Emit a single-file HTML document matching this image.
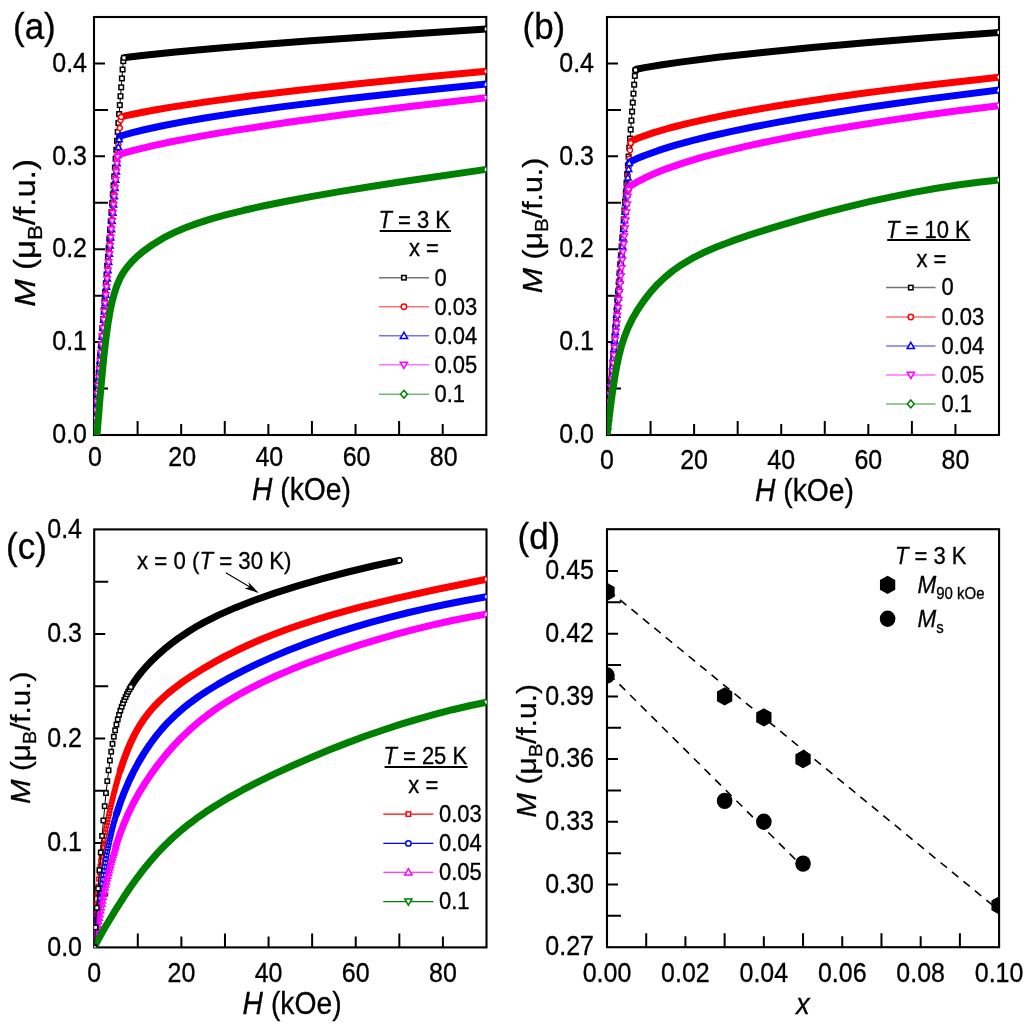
<!DOCTYPE html><html><head><meta charset="utf-8"><style>html,body{margin:0;padding:0;background:#fff;overflow:hidden}svg{display:block;will-change:transform}text{font-family:"Liberation Sans", sans-serif;fill:#000;stroke:#000;stroke-width:0.3px}</style></head><body>
<svg width="1025" height="1025" viewBox="0 0 1025 1025"><rect width="1025" height="1025" fill="#fff"/>
<clipPath id="ca"><rect x="94" y="17" width="392.3" height="418"/></clipPath>
<rect x="94" y="17" width="392.3" height="418" fill="none" stroke="#000" stroke-width="2.1"/>
<path d="M137.59 435V421 M181.18 435V424 M224.77 435V421 M268.36 435V424 M311.94 435V421 M355.53 435V424 M399.12 435V421 M442.71 435V424 M94 388.56H108 M94 342.11H105 M94 295.67H108 M94 249.22H105 M94 202.78H108 M94 156.33H105 M94 109.89H108 M94 63.44H105" stroke="#000" stroke-width="2" fill="none"/>
<text transform="translate(87 443.2) scale(1 1.085)" font-size="25" text-anchor="end">0.0</text>
<text transform="translate(87 350.31) scale(1 1.085)" font-size="25" text-anchor="end">0.1</text>
<text transform="translate(87 257.42) scale(1 1.085)" font-size="25" text-anchor="end">0.2</text>
<text transform="translate(87 164.53) scale(1 1.085)" font-size="25" text-anchor="end">0.3</text>
<text transform="translate(87 71.64) scale(1 1.085)" font-size="25" text-anchor="end">0.4</text>
<text transform="translate(95 466.4) scale(1 1.085)" font-size="25" text-anchor="middle">0</text>
<text transform="translate(182.18 466.4) scale(1 1.085)" font-size="25" text-anchor="middle">20</text>
<text transform="translate(269.36 466.4) scale(1 1.085)" font-size="25" text-anchor="middle">40</text>
<text transform="translate(356.53 466.4) scale(1 1.085)" font-size="25" text-anchor="middle">60</text>
<text transform="translate(443.71 466.4) scale(1 1.085)" font-size="25" text-anchor="middle">80</text>
<clipPath id="cb"><rect x="607" y="17" width="392" height="418"/></clipPath>
<rect x="607" y="17" width="392" height="418" fill="none" stroke="#000" stroke-width="2.1"/>
<path d="M650.56 435V421 M694.11 435V424 M737.67 435V421 M781.22 435V424 M824.78 435V421 M868.33 435V424 M911.89 435V421 M955.44 435V424 M607 388.56H621 M607 342.11H618 M607 295.67H621 M607 249.22H618 M607 202.78H621 M607 156.33H618 M607 109.89H621 M607 63.44H618" stroke="#000" stroke-width="2" fill="none"/>
<text transform="translate(594 443.2) scale(1 1.085)" font-size="25" text-anchor="end">0.0</text>
<text transform="translate(594 350.31) scale(1 1.085)" font-size="25" text-anchor="end">0.1</text>
<text transform="translate(594 257.42) scale(1 1.085)" font-size="25" text-anchor="end">0.2</text>
<text transform="translate(594 164.53) scale(1 1.085)" font-size="25" text-anchor="end">0.3</text>
<text transform="translate(594 71.64) scale(1 1.085)" font-size="25" text-anchor="end">0.4</text>
<text transform="translate(607 469) scale(1 1.085)" font-size="25" text-anchor="middle">0</text>
<text transform="translate(694.11 469) scale(1 1.085)" font-size="25" text-anchor="middle">20</text>
<text transform="translate(781.22 469) scale(1 1.085)" font-size="25" text-anchor="middle">40</text>
<text transform="translate(868.33 469) scale(1 1.085)" font-size="25" text-anchor="middle">60</text>
<text transform="translate(955.44 469) scale(1 1.085)" font-size="25" text-anchor="middle">80</text>
<clipPath id="cc"><rect x="94.2" y="529.4" width="392.3" height="418"/></clipPath>
<rect x="94.2" y="529.4" width="392.3" height="418" fill="none" stroke="#000" stroke-width="2.1"/>
<path d="M137.79 947.4V933.4 M181.38 947.4V936.4 M224.97 947.4V933.4 M268.56 947.4V936.4 M312.14 947.4V933.4 M355.73 947.4V936.4 M399.32 947.4V933.4 M442.91 947.4V936.4 M94.2 895.15H108.2 M94.2 842.9H105.2 M94.2 790.65H108.2 M94.2 738.4H105.2 M94.2 686.15H108.2 M94.2 633.9H105.2 M94.2 581.65H108.2" stroke="#000" stroke-width="2" fill="none"/>
<text transform="translate(82 955.6) scale(1 1.085)" font-size="25" text-anchor="end">0.0</text>
<text transform="translate(82 851.1) scale(1 1.085)" font-size="25" text-anchor="end">0.1</text>
<text transform="translate(82 746.6) scale(1 1.085)" font-size="25" text-anchor="end">0.2</text>
<text transform="translate(82 642.1) scale(1 1.085)" font-size="25" text-anchor="end">0.3</text>
<text transform="translate(82 537.6) scale(1 1.085)" font-size="25" text-anchor="end">0.4</text>
<text transform="translate(94.2 981.5) scale(1 1.085)" font-size="25" text-anchor="middle">0</text>
<text transform="translate(181.38 981.5) scale(1 1.085)" font-size="25" text-anchor="middle">20</text>
<text transform="translate(268.56 981.5) scale(1 1.085)" font-size="25" text-anchor="middle">40</text>
<text transform="translate(355.73 981.5) scale(1 1.085)" font-size="25" text-anchor="middle">60</text>
<text transform="translate(442.91 981.5) scale(1 1.085)" font-size="25" text-anchor="middle">80</text>
<clipPath id="cd"><rect x="607" y="529.2" width="392.1" height="418"/></clipPath>
<rect x="607" y="529.2" width="392.1" height="418" fill="none" stroke="#000" stroke-width="2.1"/>
<path d="M646.21 947.2V933.2 M685.42 947.2V936.2 M724.63 947.2V933.2 M763.84 947.2V936.2 M803.05 947.2V933.2 M842.26 947.2V936.2 M881.47 947.2V933.2 M920.68 947.2V936.2 M959.89 947.2V933.2 M607 915.85H621 M607 884.5H618 M607 853.15H621 M607 821.8H618 M607 790.45H621 M607 759.1H618 M607 727.75H621 M607 696.4H618 M607 665.05H621 M607 633.7H618 M607 602.35H621 M607 571H618" stroke="#000" stroke-width="2" fill="none"/>
<text transform="translate(594 955.4) scale(1 1.085)" font-size="25" text-anchor="end">0.27</text>
<text transform="translate(594 892.7) scale(1 1.085)" font-size="25" text-anchor="end">0.30</text>
<text transform="translate(594 830) scale(1 1.085)" font-size="25" text-anchor="end">0.33</text>
<text transform="translate(594 767.3) scale(1 1.085)" font-size="25" text-anchor="end">0.36</text>
<text transform="translate(594 704.6) scale(1 1.085)" font-size="25" text-anchor="end">0.39</text>
<text transform="translate(594 641.9) scale(1 1.085)" font-size="25" text-anchor="end">0.42</text>
<text transform="translate(594 579.2) scale(1 1.085)" font-size="25" text-anchor="end">0.45</text>
<text transform="translate(607 981.5) scale(1 1.085)" font-size="25" text-anchor="middle">0.00</text>
<text transform="translate(685.42 981.5) scale(1 1.085)" font-size="25" text-anchor="middle">0.02</text>
<text transform="translate(763.84 981.5) scale(1 1.085)" font-size="25" text-anchor="middle">0.04</text>
<text transform="translate(842.26 981.5) scale(1 1.085)" font-size="25" text-anchor="middle">0.06</text>
<text transform="translate(920.68 981.5) scale(1 1.085)" font-size="25" text-anchor="middle">0.08</text>
<text transform="translate(999.1 981.5) scale(1 1.085)" font-size="25" text-anchor="middle">0.10</text>
<text transform="translate(13 38.8) scale(1 1.04)" font-size="35" text-anchor="start">(a)</text>
<text transform="translate(522.5 39.2) scale(1 1.04)" font-size="35" text-anchor="start">(b)</text>
<text transform="translate(6 558.5) scale(1 1.04)" font-size="35" text-anchor="start">(c)</text>
<text transform="translate(517.5 548.5) scale(1 1.04)" font-size="35" text-anchor="start">(d)</text>
<text transform="translate(35.4 232.9) scale(1 1.09) rotate(-90)" font-size="30.3" text-anchor="middle"><tspan font-style="italic">M</tspan> (μ<tspan font-size="20.6" dy="6.67">B</tspan><tspan dy="-6.67">/f.u.)</tspan></text>
<text transform="translate(542.1 225.45) scale(1 1.09) rotate(-90)" font-size="27.8" text-anchor="middle"><tspan font-style="italic">M</tspan> (μ<tspan font-size="18.9" dy="6.12">B</tspan><tspan dy="-6.12">/f.u.)</tspan></text>
<text transform="translate(29.6 737.85) scale(1 1.09) rotate(-90)" font-size="27.1" text-anchor="middle"><tspan font-style="italic">M</tspan> (μ<tspan font-size="18.43" dy="5.96">B</tspan><tspan dy="-5.96">/f.u.)</tspan></text>
<text transform="translate(536.3 750.85) scale(1 1.09) rotate(-90)" font-size="27.4" text-anchor="middle"><tspan font-style="italic">M</tspan> (μ<tspan font-size="18.63" dy="6.03">B</tspan><tspan dy="-6.03">/f.u.)</tspan></text>
<text transform="translate(252 499.8) scale(1 1.085)" font-size="28.3" text-anchor="start"><tspan font-style="italic">H</tspan> (kOe)</text>
<text transform="translate(755 500.9) scale(1 1.085)" font-size="28.3" text-anchor="start"><tspan font-style="italic">H</tspan> (kOe)</text>
<text transform="translate(242.6 1013.7) scale(1 1.085)" font-size="28.3" text-anchor="start"><tspan font-style="italic">H</tspan> (kOe)</text>
<text transform="translate(796 1014) scale(1 1.085)" font-size="27.5" font-style="italic">x</text>
<g clip-path="url(#ca)">
<path d="M94 435 L123.29 61.18 L123.99 57.82 L124.69 57.57 L156.77 53.9" fill="none" stroke="#000000" stroke-width="1"/>
<path d="M123.99 57.82 L125.38 57.48 L142.12 55.48 L175.6 52 L213.96 48.49 L258.59 44.78 L307.41 41.04 L361.81 37.15 L486.3 29" fill="none" stroke="#000000" stroke-width="7" stroke-linecap="round" stroke-linejoin="round"/>
<use href="#sq000000120" x="94" y="435"/>
<use href="#sq000000120" x="94.7" y="426.09"/>
<use href="#sq000000120" x="95.39" y="417.17"/>
<use href="#sq000000120" x="96.09" y="408.26"/>
<use href="#sq000000120" x="96.79" y="399.34"/>
<use href="#sq000000120" x="97.49" y="390.43"/>
<use href="#sq000000120" x="98.18" y="381.51"/>
<use href="#sq000000120" x="98.88" y="372.6"/>
<use href="#sq000000120" x="99.58" y="363.68"/>
<use href="#sq000000120" x="100.28" y="354.77"/>
<use href="#sq000000120" x="100.97" y="345.85"/>
<use href="#sq000000120" x="101.67" y="336.94"/>
<use href="#sq000000120" x="102.37" y="328.02"/>
<use href="#sq000000120" x="103.07" y="319.11"/>
<use href="#sq000000120" x="103.76" y="310.19"/>
<use href="#sq000000120" x="104.46" y="301.28"/>
<use href="#sq000000120" x="105.16" y="292.36"/>
<use href="#sq000000120" x="105.86" y="283.45"/>
<use href="#sq000000120" x="106.55" y="274.53"/>
<use href="#sq000000120" x="107.25" y="265.62"/>
<use href="#sq000000120" x="107.95" y="256.7"/>
<use href="#sq000000120" x="108.65" y="247.79"/>
<use href="#sq000000120" x="109.34" y="238.88"/>
<use href="#sq000000120" x="110.04" y="229.96"/>
<use href="#sq000000120" x="110.74" y="221.05"/>
<use href="#sq000000120" x="111.44" y="212.13"/>
<use href="#sq000000120" x="112.13" y="203.22"/>
<use href="#sq000000120" x="112.83" y="194.3"/>
<use href="#sq000000120" x="113.53" y="185.39"/>
<use href="#sq000000120" x="114.23" y="176.47"/>
<use href="#sq000000120" x="114.92" y="167.56"/>
<use href="#sq000000120" x="115.62" y="158.64"/>
<use href="#sq000000120" x="116.32" y="149.73"/>
<use href="#sq000000120" x="117.01" y="140.81"/>
<use href="#sq000000120" x="117.71" y="131.9"/>
<use href="#sq000000120" x="118.41" y="122.98"/>
<use href="#sq000000120" x="119.11" y="114.07"/>
<use href="#sq000000120" x="119.8" y="105.15"/>
<use href="#sq000000120" x="120.5" y="96.24"/>
<use href="#sq000000120" x="121.2" y="87.32"/>
<use href="#sq000000120" x="121.9" y="78.41"/>
<use href="#sq000000120" x="122.59" y="69.51"/>
<use href="#sq000000120" x="123.29" y="61.18"/>
<use href="#sq000000120" x="123.99" y="57.82"/>
<rect x="485.25" y="27.95" width="2.09" height="2.09" fill="#fff" stroke="#ffffff" stroke-width="1.0"/>
</g>
<g clip-path="url(#ca)">
<path d="M94 435 L120.5 120.24 L121.2 117.01 L121.9 116.64 L138.64 113.02" fill="none" stroke="#ff0000" stroke-width="1"/>
<path d="M121.2 117.01 L121.9 116.64 L126.08 115.67 L141.42 112.47 L156.07 109.75 L172.81 106.92 L209.77 101.36 L253.71 95.54 L303.23 89.66 L358.32 83.68 L419.7 77.53 L486.3 71.33" fill="none" stroke="#ff0000" stroke-width="7" stroke-linecap="round" stroke-linejoin="round"/>
<use href="#ciff0000110" x="94" y="435"/>
<use href="#ciff0000110" x="94.7" y="426.7"/>
<use href="#ciff0000110" x="95.39" y="418.4"/>
<use href="#ciff0000110" x="96.09" y="410.1"/>
<use href="#ciff0000110" x="96.79" y="401.8"/>
<use href="#ciff0000110" x="97.49" y="393.5"/>
<use href="#ciff0000110" x="98.18" y="385.2"/>
<use href="#ciff0000110" x="98.88" y="376.9"/>
<use href="#ciff0000110" x="99.58" y="368.6"/>
<use href="#ciff0000110" x="100.28" y="360.3"/>
<use href="#ciff0000110" x="100.97" y="352"/>
<use href="#ciff0000110" x="101.67" y="343.7"/>
<use href="#ciff0000110" x="102.37" y="335.4"/>
<use href="#ciff0000110" x="103.07" y="327.1"/>
<use href="#ciff0000110" x="103.76" y="318.8"/>
<use href="#ciff0000110" x="104.46" y="310.5"/>
<use href="#ciff0000110" x="105.16" y="302.2"/>
<use href="#ciff0000110" x="105.86" y="293.9"/>
<use href="#ciff0000110" x="106.55" y="285.6"/>
<use href="#ciff0000110" x="107.25" y="277.3"/>
<use href="#ciff0000110" x="107.95" y="269"/>
<use href="#ciff0000110" x="108.65" y="260.7"/>
<use href="#ciff0000110" x="109.34" y="252.4"/>
<use href="#ciff0000110" x="110.04" y="244.1"/>
<use href="#ciff0000110" x="110.74" y="235.8"/>
<use href="#ciff0000110" x="111.44" y="227.5"/>
<use href="#ciff0000110" x="112.13" y="219.2"/>
<use href="#ciff0000110" x="112.83" y="210.9"/>
<use href="#ciff0000110" x="113.53" y="202.6"/>
<use href="#ciff0000110" x="114.23" y="194.3"/>
<use href="#ciff0000110" x="114.92" y="186"/>
<use href="#ciff0000110" x="115.62" y="177.7"/>
<use href="#ciff0000110" x="116.32" y="169.4"/>
<use href="#ciff0000110" x="117.01" y="161.1"/>
<use href="#ciff0000110" x="117.71" y="152.8"/>
<use href="#ciff0000110" x="118.41" y="144.5"/>
<use href="#ciff0000110" x="119.11" y="136.2"/>
<use href="#ciff0000110" x="119.8" y="127.92"/>
<use href="#ciff0000110" x="120.5" y="120.24"/>
<use href="#ciff0000110" x="121.2" y="117.01"/>
<circle cx="486.3" cy="71.33" r="1.26" fill="#fff" stroke="#ffffff" stroke-width="1.0"/>
</g>
<g clip-path="url(#ca)">
<path d="M94 435 L119.11 139.47 L119.8 136.4 L121.9 135.57" fill="none" stroke="#0000ff" stroke-width="1"/>
<path d="M119.11 139.47 L119.8 136.4 L120.5 136 L132.36 132.66 L146.31 129.26 L163.74 125.52 L183.97 121.66 L206.28 117.81 L231.39 113.86 L256.5 110.2 L283 106.6 L342.98 99.17 L410.63 91.66 L486.3 84.04" fill="none" stroke="#0000ff" stroke-width="7" stroke-linecap="round" stroke-linejoin="round"/>
<use href="#tu0000ff110" x="94" y="435"/>
<use href="#tu0000ff110" x="94.7" y="426.77"/>
<use href="#tu0000ff110" x="95.39" y="418.54"/>
<use href="#tu0000ff110" x="96.09" y="410.31"/>
<use href="#tu0000ff110" x="96.79" y="402.08"/>
<use href="#tu0000ff110" x="97.49" y="393.85"/>
<use href="#tu0000ff110" x="98.18" y="385.62"/>
<use href="#tu0000ff110" x="98.88" y="377.39"/>
<use href="#tu0000ff110" x="99.58" y="369.16"/>
<use href="#tu0000ff110" x="100.28" y="360.93"/>
<use href="#tu0000ff110" x="100.97" y="352.7"/>
<use href="#tu0000ff110" x="101.67" y="344.47"/>
<use href="#tu0000ff110" x="102.37" y="336.25"/>
<use href="#tu0000ff110" x="103.07" y="328.02"/>
<use href="#tu0000ff110" x="103.76" y="319.79"/>
<use href="#tu0000ff110" x="104.46" y="311.56"/>
<use href="#tu0000ff110" x="105.16" y="303.33"/>
<use href="#tu0000ff110" x="105.86" y="295.1"/>
<use href="#tu0000ff110" x="106.55" y="286.87"/>
<use href="#tu0000ff110" x="107.25" y="278.64"/>
<use href="#tu0000ff110" x="107.95" y="270.41"/>
<use href="#tu0000ff110" x="108.65" y="262.18"/>
<use href="#tu0000ff110" x="109.34" y="253.95"/>
<use href="#tu0000ff110" x="110.04" y="245.72"/>
<use href="#tu0000ff110" x="110.74" y="237.49"/>
<use href="#tu0000ff110" x="111.44" y="229.26"/>
<use href="#tu0000ff110" x="112.13" y="221.03"/>
<use href="#tu0000ff110" x="112.83" y="212.8"/>
<use href="#tu0000ff110" x="113.53" y="204.57"/>
<use href="#tu0000ff110" x="114.23" y="196.34"/>
<use href="#tu0000ff110" x="114.92" y="188.11"/>
<use href="#tu0000ff110" x="115.62" y="179.88"/>
<use href="#tu0000ff110" x="116.32" y="171.65"/>
<use href="#tu0000ff110" x="117.01" y="163.42"/>
<use href="#tu0000ff110" x="117.71" y="155.2"/>
<use href="#tu0000ff110" x="118.41" y="146.99"/>
<use href="#tu0000ff110" x="119.11" y="139.47"/>
<path d="M486.3 82.45L487.9 85.24L484.7 85.24Z" fill="#fff" stroke="#ffffff" stroke-width="1.0" stroke-linejoin="miter"/>
</g>
<g clip-path="url(#ca)">
<path d="M94 435 L117.71 156.81 L118.41 154.74 L123.99 152.98" fill="none" stroke="#ff00ff" stroke-width="1"/>
<path d="M117.71 156.81 L118.41 154.74 L119.11 154.44 L134.45 150.13 L153.28 145.63 L171.41 141.78 L191.64 137.87 L213.96 133.89 L238.37 129.84 L289.98 122.05 L348.56 114.09 L414.12 105.96 L486.3 97.7" fill="none" stroke="#ff00ff" stroke-width="7" stroke-linecap="round" stroke-linejoin="round"/>
<use href="#tdff00ff110" x="94" y="435"/>
<use href="#tdff00ff110" x="94.7" y="426.78"/>
<use href="#tdff00ff110" x="95.39" y="418.56"/>
<use href="#tdff00ff110" x="96.09" y="410.34"/>
<use href="#tdff00ff110" x="96.79" y="402.12"/>
<use href="#tdff00ff110" x="97.49" y="393.9"/>
<use href="#tdff00ff110" x="98.18" y="385.68"/>
<use href="#tdff00ff110" x="98.88" y="377.46"/>
<use href="#tdff00ff110" x="99.58" y="369.23"/>
<use href="#tdff00ff110" x="100.28" y="361.01"/>
<use href="#tdff00ff110" x="100.97" y="352.79"/>
<use href="#tdff00ff110" x="101.67" y="344.57"/>
<use href="#tdff00ff110" x="102.37" y="336.35"/>
<use href="#tdff00ff110" x="103.07" y="328.13"/>
<use href="#tdff00ff110" x="103.76" y="319.91"/>
<use href="#tdff00ff110" x="104.46" y="311.69"/>
<use href="#tdff00ff110" x="105.16" y="303.47"/>
<use href="#tdff00ff110" x="105.86" y="295.25"/>
<use href="#tdff00ff110" x="106.55" y="287.03"/>
<use href="#tdff00ff110" x="107.25" y="278.81"/>
<use href="#tdff00ff110" x="107.95" y="270.59"/>
<use href="#tdff00ff110" x="108.65" y="262.37"/>
<use href="#tdff00ff110" x="109.34" y="254.15"/>
<use href="#tdff00ff110" x="110.04" y="245.92"/>
<use href="#tdff00ff110" x="110.74" y="237.7"/>
<use href="#tdff00ff110" x="111.44" y="229.48"/>
<use href="#tdff00ff110" x="112.13" y="221.26"/>
<use href="#tdff00ff110" x="112.83" y="213.04"/>
<use href="#tdff00ff110" x="113.53" y="204.82"/>
<use href="#tdff00ff110" x="114.23" y="196.6"/>
<use href="#tdff00ff110" x="114.92" y="188.38"/>
<use href="#tdff00ff110" x="115.62" y="180.16"/>
<use href="#tdff00ff110" x="116.32" y="171.94"/>
<use href="#tdff00ff110" x="117.01" y="163.77"/>
<use href="#tdff00ff110" x="117.71" y="156.81"/>
<path d="M486.3 99.3L487.9 96.51L484.7 96.51Z" fill="#fff" stroke="#ffffff" stroke-width="1.0"/>
</g>
<g clip-path="url(#ca)">
<path d="M94 471.7 L100.28 394.8 L103.76 357.53 L105.86 339.15 L107.95 323.9 L110.04 311.51 L112.13 301.55 L114.23 293.56 L117.01 285.23 L119.8 278.81 L123.29 272.57 L127.48 266.69 L132.36 261.14 L137.94 255.8 L144.91 250.06 L153.28 244.13 L163.04 238.24 L173.51 232.89 L184.66 228.05 L197.22 223.39 L211.17 218.93 L226.51 214.63 L243.95 210.28 L264.17 205.75 L286.49 201.21 L310.9 196.63 L338.1 191.89 L368.09 186.98 L401.56 181.78 L486.3 169.4" fill="none" stroke="#008000" stroke-width="7" stroke-linecap="round" stroke-linejoin="round"/>
<path d="M486.3 167.64L487.84 169.4L486.3 171.16L484.76 169.4Z" fill="#fff" stroke="#ffffff" stroke-width="1.0"/>
</g>
<g clip-path="url(#cb)">
<path d="M607 435 L634.18 84.67 L635.57 70.02 L636.27 69.27 L636.97 69.11 L653.69 66.11" fill="none" stroke="#000000" stroke-width="1"/>
<path d="M635.57 70.02 L636.27 69.27 L646.03 67.42 L662.05 64.77 L680.17 62.12 L717.81 57.32 L762.41 52.41 L811.89 47.56 L868.33 42.56 L930.36 37.54 L999 32.4" fill="none" stroke="#000000" stroke-width="7" stroke-linecap="round" stroke-linejoin="round"/>
<use href="#sq000000120" x="607" y="435"/>
<use href="#sq000000120" x="607.7" y="426.02"/>
<use href="#sq000000120" x="608.39" y="417.03"/>
<use href="#sq000000120" x="609.09" y="408.05"/>
<use href="#sq000000120" x="609.79" y="399.07"/>
<use href="#sq000000120" x="610.48" y="390.09"/>
<use href="#sq000000120" x="611.18" y="381.1"/>
<use href="#sq000000120" x="611.88" y="372.12"/>
<use href="#sq000000120" x="612.58" y="363.14"/>
<use href="#sq000000120" x="613.27" y="354.15"/>
<use href="#sq000000120" x="613.97" y="345.17"/>
<use href="#sq000000120" x="614.67" y="336.19"/>
<use href="#sq000000120" x="615.36" y="327.2"/>
<use href="#sq000000120" x="616.06" y="318.22"/>
<use href="#sq000000120" x="616.76" y="309.24"/>
<use href="#sq000000120" x="617.45" y="300.26"/>
<use href="#sq000000120" x="618.15" y="291.27"/>
<use href="#sq000000120" x="618.85" y="282.29"/>
<use href="#sq000000120" x="619.54" y="273.31"/>
<use href="#sq000000120" x="620.24" y="264.32"/>
<use href="#sq000000120" x="620.94" y="255.34"/>
<use href="#sq000000120" x="621.63" y="246.36"/>
<use href="#sq000000120" x="622.33" y="237.37"/>
<use href="#sq000000120" x="623.03" y="228.39"/>
<use href="#sq000000120" x="623.73" y="219.41"/>
<use href="#sq000000120" x="624.42" y="210.43"/>
<use href="#sq000000120" x="625.12" y="201.44"/>
<use href="#sq000000120" x="625.82" y="192.46"/>
<use href="#sq000000120" x="626.51" y="183.48"/>
<use href="#sq000000120" x="627.21" y="174.49"/>
<use href="#sq000000120" x="627.91" y="165.51"/>
<use href="#sq000000120" x="628.6" y="156.53"/>
<use href="#sq000000120" x="629.3" y="147.55"/>
<use href="#sq000000120" x="630" y="138.56"/>
<use href="#sq000000120" x="630.69" y="129.58"/>
<use href="#sq000000120" x="631.39" y="120.6"/>
<use href="#sq000000120" x="632.09" y="111.61"/>
<use href="#sq000000120" x="632.78" y="102.63"/>
<use href="#sq000000120" x="633.48" y="93.65"/>
<use href="#sq000000120" x="634.18" y="84.67"/>
<use href="#sq000000120" x="634.88" y="75.84"/>
<use href="#sq000000120" x="635.57" y="70.02"/>
<rect x="997.96" y="31.35" width="2.09" height="2.09" fill="#fff" stroke="#ffffff" stroke-width="1.0"/>
</g>
<g clip-path="url(#cb)">
<path d="M607 435 L630.69 143.02 L631.39 141 L635.57 139.14" fill="none" stroke="#ff0000" stroke-width="1"/>
<path d="M630.69 143.02 L631.39 141 L639.06 137.76 L653.69 132.66 L670.42 127.75 L687.84 123.31 L706.66 119.04 L727.56 114.75 L750.56 110.45 L774.95 106.27 L800.74 102.17 L829.31 97.95 L859.27 93.8 L891.33 89.64 L925.48 85.47 L999 77.2" fill="none" stroke="#ff0000" stroke-width="7" stroke-linecap="round" stroke-linejoin="round"/>
<use href="#ciff0000110" x="607" y="435"/>
<use href="#ciff0000110" x="607.7" y="426.37"/>
<use href="#ciff0000110" x="608.39" y="417.74"/>
<use href="#ciff0000110" x="609.09" y="409.11"/>
<use href="#ciff0000110" x="609.79" y="400.48"/>
<use href="#ciff0000110" x="610.48" y="391.85"/>
<use href="#ciff0000110" x="611.18" y="383.22"/>
<use href="#ciff0000110" x="611.88" y="374.59"/>
<use href="#ciff0000110" x="612.58" y="365.96"/>
<use href="#ciff0000110" x="613.27" y="357.33"/>
<use href="#ciff0000110" x="613.97" y="348.7"/>
<use href="#ciff0000110" x="614.67" y="340.07"/>
<use href="#ciff0000110" x="615.36" y="331.44"/>
<use href="#ciff0000110" x="616.06" y="322.81"/>
<use href="#ciff0000110" x="616.76" y="314.18"/>
<use href="#ciff0000110" x="617.45" y="305.55"/>
<use href="#ciff0000110" x="618.15" y="296.92"/>
<use href="#ciff0000110" x="618.85" y="288.29"/>
<use href="#ciff0000110" x="619.54" y="279.66"/>
<use href="#ciff0000110" x="620.24" y="271.03"/>
<use href="#ciff0000110" x="620.94" y="262.4"/>
<use href="#ciff0000110" x="621.63" y="253.77"/>
<use href="#ciff0000110" x="622.33" y="245.14"/>
<use href="#ciff0000110" x="623.03" y="236.51"/>
<use href="#ciff0000110" x="623.73" y="227.88"/>
<use href="#ciff0000110" x="624.42" y="219.25"/>
<use href="#ciff0000110" x="625.12" y="210.62"/>
<use href="#ciff0000110" x="625.82" y="201.99"/>
<use href="#ciff0000110" x="626.51" y="193.36"/>
<use href="#ciff0000110" x="627.21" y="184.73"/>
<use href="#ciff0000110" x="627.91" y="176.1"/>
<use href="#ciff0000110" x="628.6" y="167.47"/>
<use href="#ciff0000110" x="629.3" y="158.84"/>
<use href="#ciff0000110" x="630" y="150.26"/>
<use href="#ciff0000110" x="630.69" y="143.02"/>
<circle cx="999" cy="77.2" r="1.26" fill="#fff" stroke="#ffffff" stroke-width="1.0"/>
</g>
<g clip-path="url(#cb)">
<path d="M607 435 L628.6 169.07 L629.3 163.07 L630 161.89 L635.57 159.23" fill="none" stroke="#0000ff" stroke-width="1"/>
<path d="M629.3 163.07 L630 161.89 L630.69 161.52 L636.97 158.61 L644.63 155.45 L658.57 150.43 L674.6 145.44 L692.02 140.65 L710.84 136.01 L731.74 131.31 L754.04 126.73 L778.43 122.09 L804.22 117.53 L832.1 112.93 L862.06 108.29 L893.42 103.72 L926.87 99.12 L999 89.94" fill="none" stroke="#0000ff" stroke-width="7" stroke-linecap="round" stroke-linejoin="round"/>
<use href="#tu0000ff110" x="607" y="435"/>
<use href="#tu0000ff110" x="607.7" y="426.42"/>
<use href="#tu0000ff110" x="608.39" y="417.83"/>
<use href="#tu0000ff110" x="609.09" y="409.25"/>
<use href="#tu0000ff110" x="609.79" y="400.67"/>
<use href="#tu0000ff110" x="610.48" y="392.08"/>
<use href="#tu0000ff110" x="611.18" y="383.5"/>
<use href="#tu0000ff110" x="611.88" y="374.92"/>
<use href="#tu0000ff110" x="612.58" y="366.34"/>
<use href="#tu0000ff110" x="613.27" y="357.75"/>
<use href="#tu0000ff110" x="613.97" y="349.17"/>
<use href="#tu0000ff110" x="614.67" y="340.59"/>
<use href="#tu0000ff110" x="615.36" y="332"/>
<use href="#tu0000ff110" x="616.06" y="323.42"/>
<use href="#tu0000ff110" x="616.76" y="314.84"/>
<use href="#tu0000ff110" x="617.45" y="306.25"/>
<use href="#tu0000ff110" x="618.15" y="297.67"/>
<use href="#tu0000ff110" x="618.85" y="289.09"/>
<use href="#tu0000ff110" x="619.54" y="280.5"/>
<use href="#tu0000ff110" x="620.24" y="271.92"/>
<use href="#tu0000ff110" x="620.94" y="263.34"/>
<use href="#tu0000ff110" x="621.63" y="254.76"/>
<use href="#tu0000ff110" x="622.33" y="246.17"/>
<use href="#tu0000ff110" x="623.03" y="237.59"/>
<use href="#tu0000ff110" x="623.73" y="229.01"/>
<use href="#tu0000ff110" x="624.42" y="220.42"/>
<use href="#tu0000ff110" x="625.12" y="211.84"/>
<use href="#tu0000ff110" x="625.82" y="203.26"/>
<use href="#tu0000ff110" x="626.51" y="194.67"/>
<use href="#tu0000ff110" x="627.21" y="186.09"/>
<use href="#tu0000ff110" x="627.91" y="177.51"/>
<use href="#tu0000ff110" x="628.6" y="169.07"/>
<use href="#tu0000ff110" x="629.3" y="163.07"/>
<path d="M999 88.34L1000.6 91.13L997.4 91.13Z" fill="#fff" stroke="#ffffff" stroke-width="1.0" stroke-linejoin="miter"/>
</g>
<g clip-path="url(#cb)">
<path d="M607 435 L627.91 196.57 L628.6 189.58 L629.3 186.86 L630.69 185.78" fill="none" stroke="#ff00ff" stroke-width="1"/>
<path d="M628.6 189.58 L629.3 186.86 L630 186.24 L638.36 181.27 L644.63 178.04 L651.6 174.8 L659.27 171.57 L667.63 168.35 L684.35 162.62 L702.47 157.19 L722.68 151.81 L745.68 146.32 L770.07 141.06 L795.86 135.98 L824.43 130.8 L855.09 125.68 L887.85 120.61 L922.69 115.58 L959.63 110.59 L999 105.61" fill="none" stroke="#ff00ff" stroke-width="7" stroke-linecap="round" stroke-linejoin="round"/>
<use href="#tdff00ff110" x="607" y="435"/>
<use href="#tdff00ff110" x="607.7" y="427.05"/>
<use href="#tdff00ff110" x="608.39" y="419.1"/>
<use href="#tdff00ff110" x="609.09" y="411.15"/>
<use href="#tdff00ff110" x="609.79" y="403.2"/>
<use href="#tdff00ff110" x="610.48" y="395.25"/>
<use href="#tdff00ff110" x="611.18" y="387.3"/>
<use href="#tdff00ff110" x="611.88" y="379.36"/>
<use href="#tdff00ff110" x="612.58" y="371.41"/>
<use href="#tdff00ff110" x="613.27" y="363.46"/>
<use href="#tdff00ff110" x="613.97" y="355.51"/>
<use href="#tdff00ff110" x="614.67" y="347.56"/>
<use href="#tdff00ff110" x="615.36" y="339.61"/>
<use href="#tdff00ff110" x="616.06" y="331.66"/>
<use href="#tdff00ff110" x="616.76" y="323.71"/>
<use href="#tdff00ff110" x="617.45" y="315.76"/>
<use href="#tdff00ff110" x="618.15" y="307.81"/>
<use href="#tdff00ff110" x="618.85" y="299.86"/>
<use href="#tdff00ff110" x="619.54" y="291.91"/>
<use href="#tdff00ff110" x="620.24" y="283.97"/>
<use href="#tdff00ff110" x="620.94" y="276.02"/>
<use href="#tdff00ff110" x="621.63" y="268.07"/>
<use href="#tdff00ff110" x="622.33" y="260.12"/>
<use href="#tdff00ff110" x="623.03" y="252.17"/>
<use href="#tdff00ff110" x="623.73" y="244.22"/>
<use href="#tdff00ff110" x="624.42" y="236.27"/>
<use href="#tdff00ff110" x="625.12" y="228.32"/>
<use href="#tdff00ff110" x="625.82" y="220.37"/>
<use href="#tdff00ff110" x="626.51" y="212.42"/>
<use href="#tdff00ff110" x="627.21" y="204.48"/>
<use href="#tdff00ff110" x="627.91" y="196.57"/>
<use href="#tdff00ff110" x="628.6" y="189.58"/>
<path d="M999 107.2L1000.6 104.41L997.4 104.41Z" fill="#fff" stroke="#ffffff" stroke-width="1.0"/>
</g>
<g clip-path="url(#cb)">
<path d="M607 435 L610.48 406.67 L612.58 391.27 L614.67 377.69 L616.76 366.05 L618.85 356.22 L621.63 345.49 L624.42 336.84 L627.91 328.04 L632.09 319.37 L637.66 309.73 L643.94 300.49 L650.9 291.64 L657.87 283.98 L665.54 276.72 L673.2 270.5 L681.57 264.66 L692.02 258.46 L703.17 252.82 L716.41 247.04 L731.74 241.15 L750.56 234.64 L772.86 227.56 L797.25 220.36 L823.04 213.24 L846.73 207.13 L870.42 201.47 L892.72 196.57 L915.02 192.13 L936.63 188.29 L957.54 185.04 L978.44 182.27 L999 180.04" fill="none" stroke="#008000" stroke-width="7" stroke-linecap="round" stroke-linejoin="round"/>
<path d="M999 178.28L1000.54 180.04L999 181.8L997.46 180.04Z" fill="#fff" stroke="#ffffff" stroke-width="1.0"/>
</g>
<g clip-path="url(#cc)">
<path d="M94.2 947.4 L96.16 913.58 L98.12 886.33 L100.08 866.51 L102.05 851.7 L105.97 829.06 L110.55 807.4 L115.78 786.15 L121.01 768.2" fill="none" stroke="#ff0000" stroke-width="1"/>
<path d="M120.35 770.27 L123.62 760.37 L127.55 749.93 L131.47 740.88 L135.39 733.01 L139.31 726.14 L143.89 719.15 L149.12 712.25 L154.35 706.23 L160.24 700.24 L167.43 693.76 L174.62 687.94 L183.12 681.66 L192.28 675.45 L202.74 668.88 L213.85 662.41 L224.97 656.39 L236.08 650.77 L247.85 645.23 L260.27 639.8 L272.7 634.75 L285.77 629.82 L298.85 625.23 L312.58 620.73 L327.62 616.14 L342.66 611.85 L359 607.47 L394.96 598.66 L436.15 589.53 L486.5 579.19" fill="none" stroke="#ff0000" stroke-width="7" stroke-linecap="round" stroke-linejoin="round"/>
<use href="#sqff0000100n" x="94.2" y="947.4"/>
<use href="#sqff0000100n" x="94.85" y="935.71"/>
<use href="#sqff0000100n" x="95.51" y="924.35"/>
<use href="#sqff0000100n" x="96.16" y="913.58"/>
<use href="#sqff0000100n" x="96.82" y="903.6"/>
<use href="#sqff0000100n" x="97.47" y="894.52"/>
<use href="#sqff0000100n" x="98.12" y="886.33"/>
<use href="#sqff0000100n" x="98.78" y="879"/>
<use href="#sqff0000100n" x="99.43" y="872.42"/>
<use href="#sqff0000100n" x="100.08" y="866.51"/>
<use href="#sqff0000100n" x="100.74" y="861.15"/>
<use href="#sqff0000100n" x="101.39" y="856.24"/>
<use href="#sqff0000100n" x="102.05" y="851.7"/>
<use href="#sqff0000100n" x="102.7" y="847.46"/>
<use href="#sqff0000100n" x="103.35" y="843.45"/>
<use href="#sqff0000100n" x="104.01" y="839.64"/>
<use href="#sqff0000100n" x="104.66" y="835.99"/>
<use href="#sqff0000100n" x="105.32" y="832.47"/>
<use href="#sqff0000100n" x="105.97" y="829.06"/>
<use href="#sqff0000100n" x="106.62" y="825.75"/>
<use href="#sqff0000100n" x="107.28" y="822.52"/>
<use href="#sqff0000100n" x="107.93" y="819.37"/>
<use href="#sqff0000100n" x="108.58" y="816.28"/>
<use href="#sqff0000100n" x="109.24" y="813.26"/>
<use href="#sqff0000100n" x="109.89" y="810.3"/>
<use href="#sqff0000100n" x="110.55" y="807.4"/>
<use href="#sqff0000100n" x="111.2" y="804.56"/>
<use href="#sqff0000100n" x="111.85" y="801.77"/>
<use href="#sqff0000100n" x="112.51" y="799.03"/>
<use href="#sqff0000100n" x="113.16" y="796.35"/>
<use href="#sqff0000100n" x="113.81" y="793.72"/>
<use href="#sqff0000100n" x="114.47" y="791.15"/>
<use href="#sqff0000100n" x="115.12" y="788.62"/>
<use href="#sqff0000100n" x="115.78" y="786.15"/>
<use href="#sqff0000100n" x="116.43" y="783.73"/>
<use href="#sqff0000100n" x="117.08" y="781.37"/>
<use href="#sqff0000100n" x="117.74" y="779.05"/>
<use href="#sqff0000100n" x="118.39" y="776.78"/>
<use href="#sqff0000100n" x="119.05" y="774.56"/>
<use href="#sqff0000100n" x="119.7" y="772.39"/>
<use href="#sqff0000100n" x="120.35" y="770.27"/>
<rect x="485.45" y="578.15" width="2.09" height="2.09" fill="#fff" stroke="#ffffff" stroke-width="1.0"/>
</g>
<g clip-path="url(#cc)">
<path d="M94.2 947.4 L100.08 898.31 L105.32 862.76 L110.55 836.18 L113.81 823.11 L117.08 811.99" fill="none" stroke="#0000ff" stroke-width="1"/>
<path d="M116.43 814.09 L120.35 802.29 L124.28 792.01 L128.85 781.39 L133.43 771.89 L138.66 762.13 L143.89 753.34 L149.78 744.46 L155.66 736.51 L161.54 729.36 L168.08 722.22 L175.28 715.18 L182.47 708.85 L190.31 702.6 L198.81 696.44 L207.97 690.37 L217.77 684.38 L230.2 677.38 L243.27 670.58 L257.66 663.63 L272.7 656.87 L288.39 650.29 L304.08 644.16 L320.43 638.21 L336.77 632.68 L353.77 627.33 L370.77 622.37 L388.43 617.59 L406.73 613.02 L425.69 608.64 L445.31 604.46 L465.58 600.47 L486.5 596.66" fill="none" stroke="#0000ff" stroke-width="7" stroke-linecap="round" stroke-linejoin="round"/>
<use href="#ci0000ff100n" x="94.2" y="947.4"/>
<use href="#ci0000ff100n" x="94.85" y="941.71"/>
<use href="#ci0000ff100n" x="95.51" y="936.05"/>
<use href="#ci0000ff100n" x="96.16" y="930.42"/>
<use href="#ci0000ff100n" x="96.82" y="924.84"/>
<use href="#ci0000ff100n" x="97.47" y="919.34"/>
<use href="#ci0000ff100n" x="98.12" y="913.92"/>
<use href="#ci0000ff100n" x="98.78" y="908.6"/>
<use href="#ci0000ff100n" x="99.43" y="903.39"/>
<use href="#ci0000ff100n" x="100.08" y="898.31"/>
<use href="#ci0000ff100n" x="100.74" y="893.35"/>
<use href="#ci0000ff100n" x="101.39" y="888.54"/>
<use href="#ci0000ff100n" x="102.05" y="883.87"/>
<use href="#ci0000ff100n" x="102.7" y="879.35"/>
<use href="#ci0000ff100n" x="103.35" y="874.98"/>
<use href="#ci0000ff100n" x="104.01" y="870.76"/>
<use href="#ci0000ff100n" x="104.66" y="866.68"/>
<use href="#ci0000ff100n" x="105.32" y="862.76"/>
<use href="#ci0000ff100n" x="105.97" y="858.98"/>
<use href="#ci0000ff100n" x="106.62" y="855.34"/>
<use href="#ci0000ff100n" x="107.28" y="851.83"/>
<use href="#ci0000ff100n" x="107.93" y="848.46"/>
<use href="#ci0000ff100n" x="108.58" y="845.21"/>
<use href="#ci0000ff100n" x="109.24" y="842.09"/>
<use href="#ci0000ff100n" x="109.89" y="839.08"/>
<use href="#ci0000ff100n" x="110.55" y="836.18"/>
<use href="#ci0000ff100n" x="111.2" y="833.38"/>
<use href="#ci0000ff100n" x="111.85" y="830.68"/>
<use href="#ci0000ff100n" x="112.51" y="828.07"/>
<use href="#ci0000ff100n" x="113.16" y="825.55"/>
<use href="#ci0000ff100n" x="113.81" y="823.11"/>
<use href="#ci0000ff100n" x="114.47" y="820.75"/>
<use href="#ci0000ff100n" x="115.12" y="818.46"/>
<use href="#ci0000ff100n" x="115.78" y="816.24"/>
<use href="#ci0000ff100n" x="116.43" y="814.09"/>
<circle cx="486.5" cy="596.66" r="1.26" fill="#fff" stroke="#ffffff" stroke-width="1.0"/>
</g>
<g clip-path="url(#cc)">
<path d="M94.2 947.4 L100.74 910.95 L105.97 884.84 L111.2 862.68 L116.43 844.39" fill="none" stroke="#ff00ff" stroke-width="1"/>
<path d="M115.78 846.49 L119.7 834.64 L123.62 824.3 L128.2 813.71 L133.43 803.06 L139.31 792.42 L145.2 782.83 L151.74 773.1 L158.93 763.32 L166.12 754.36 L173.97 745.41 L181.81 737.24 L190.31 729.18 L198.81 721.83 L207.97 714.63 L217.12 708.08 L226.93 701.66 L238.04 695.02 L249.81 688.6 L262.24 682.38 L275.97 676.04 L291 669.61 L306.7 663.37 L323.04 657.29 L340.7 651.13 L359 645.15 L377.31 639.55 L396.27 634.15 L414.58 629.32 L432.89 624.86 L451.19 620.79 L468.85 617.25 L486.5 614.1" fill="none" stroke="#ff00ff" stroke-width="7" stroke-linecap="round" stroke-linejoin="round"/>
<use href="#tuff00ff100n" x="94.2" y="947.4"/>
<use href="#tuff00ff100n" x="94.85" y="943.67"/>
<use href="#tuff00ff100n" x="95.51" y="939.95"/>
<use href="#tuff00ff100n" x="96.16" y="936.23"/>
<use href="#tuff00ff100n" x="96.82" y="932.54"/>
<use href="#tuff00ff100n" x="97.47" y="928.86"/>
<use href="#tuff00ff100n" x="98.12" y="925.21"/>
<use href="#tuff00ff100n" x="98.78" y="921.59"/>
<use href="#tuff00ff100n" x="99.43" y="918"/>
<use href="#tuff00ff100n" x="100.08" y="914.46"/>
<use href="#tuff00ff100n" x="100.74" y="910.95"/>
<use href="#tuff00ff100n" x="101.39" y="907.5"/>
<use href="#tuff00ff100n" x="102.05" y="904.09"/>
<use href="#tuff00ff100n" x="102.7" y="900.73"/>
<use href="#tuff00ff100n" x="103.35" y="897.44"/>
<use href="#tuff00ff100n" x="104.01" y="894.2"/>
<use href="#tuff00ff100n" x="104.66" y="891.01"/>
<use href="#tuff00ff100n" x="105.32" y="887.89"/>
<use href="#tuff00ff100n" x="105.97" y="884.84"/>
<use href="#tuff00ff100n" x="106.62" y="881.84"/>
<use href="#tuff00ff100n" x="107.28" y="878.91"/>
<use href="#tuff00ff100n" x="107.93" y="876.05"/>
<use href="#tuff00ff100n" x="108.58" y="873.25"/>
<use href="#tuff00ff100n" x="109.24" y="870.51"/>
<use href="#tuff00ff100n" x="109.89" y="867.83"/>
<use href="#tuff00ff100n" x="110.55" y="865.22"/>
<use href="#tuff00ff100n" x="111.2" y="862.68"/>
<use href="#tuff00ff100n" x="111.85" y="860.19"/>
<use href="#tuff00ff100n" x="112.51" y="857.76"/>
<use href="#tuff00ff100n" x="113.16" y="855.4"/>
<use href="#tuff00ff100n" x="113.81" y="853.09"/>
<use href="#tuff00ff100n" x="114.47" y="850.83"/>
<use href="#tuff00ff100n" x="115.12" y="848.63"/>
<use href="#tuff00ff100n" x="115.78" y="846.49"/>
<path d="M486.5 612.5L488.1 615.29L484.9 615.29Z" fill="#fff" stroke="#ffffff" stroke-width="1.0" stroke-linejoin="miter"/>
</g>
<g clip-path="url(#cc)">
<path d="M94.2 947.4 L98.78 938.45 L104.66 928.04 L114.47 911.71 L122.97 898.28 L130.16 887.56 L137.35 877.51 L143.89 868.97 L151.08 860.24 L158.28 852.17 L165.47 844.73 L172.66 837.86 L180.51 830.95 L188.35 824.58 L196.85 818.18 L206.01 811.8 L215.81 805.45 L228.89 797.61 L242.62 789.97 L257.66 782.14 L274 774.13 L291.66 765.96 L309.97 757.93 L328.27 750.33 L347.23 742.88 L364.89 736.34 L382.54 730.18 L400.19 724.41 L417.85 719.05 L435.5 714.1 L452.5 709.73 L469.5 705.78 L486.5 702.24" fill="none" stroke="#008000" stroke-width="7" stroke-linecap="round" stroke-linejoin="round"/>
<path d="M486.5 703.83L488.1 701.04L484.9 701.04Z" fill="#fff" stroke="#ffffff" stroke-width="1.0"/>
</g>
<g clip-path="url(#cc)">
<path d="M94.2 947.4 L98.12 888.57 L102.05 835.91 L105.97 793.07 L109.89 760.51 L113.81 736.7 L116.43 724.59 L119.05 714.77 L121.66 706.7 L124.28 699.97 L128.2 691.68 L132.12 684.87" fill="none" stroke="#000000" stroke-width="1"/>
<path d="M130.81 687.01 L133.43 682.83 L137.35 677.25 L141.28 672.26 L145.2 667.7 L150.43 662.11 L155.66 656.96 L166.12 647.71 L171.35 643.53 L177.89 638.65 L189.66 630.77 L196.2 626.81 L204.04 622.41 L218.43 615.15 L235.43 607.64 L253.74 600.48 L274.66 593.15 L296.89 586.09 L321.73 578.89 L347.89 572 L374.04 565.77 L399.32 560.39" fill="none" stroke="#000000" stroke-width="7" stroke-linecap="round" stroke-linejoin="round"/>
<use href="#sq000000114" x="94.2" y="947.4"/>
<use href="#sq000000114" x="95.51" y="927.45"/>
<use href="#sq000000114" x="96.82" y="907.76"/>
<use href="#sq000000114" x="98.12" y="888.57"/>
<use href="#sq000000114" x="99.43" y="870.08"/>
<use href="#sq000000114" x="100.74" y="852.49"/>
<use href="#sq000000114" x="102.05" y="835.91"/>
<use href="#sq000000114" x="103.35" y="820.46"/>
<use href="#sq000000114" x="104.66" y="806.17"/>
<use href="#sq000000114" x="105.97" y="793.07"/>
<use href="#sq000000114" x="107.28" y="781.12"/>
<use href="#sq000000114" x="108.58" y="770.29"/>
<use href="#sq000000114" x="109.89" y="760.51"/>
<use href="#sq000000114" x="111.2" y="751.71"/>
<use href="#sq000000114" x="112.51" y="743.8"/>
<use href="#sq000000114" x="113.81" y="736.7"/>
<use href="#sq000000114" x="115.12" y="730.32"/>
<use href="#sq000000114" x="116.43" y="724.59"/>
<use href="#sq000000114" x="117.74" y="719.43"/>
<use href="#sq000000114" x="119.05" y="714.77"/>
<use href="#sq000000114" x="120.35" y="710.55"/>
<use href="#sq000000114" x="121.66" y="706.7"/>
<use href="#sq000000114" x="122.97" y="703.2"/>
<use href="#sq000000114" x="124.28" y="699.97"/>
<use href="#sq000000114" x="125.58" y="697"/>
<use href="#sq000000114" x="126.89" y="694.25"/>
<use href="#sq000000114" x="128.2" y="691.68"/>
<use href="#sq000000114" x="129.51" y="689.27"/>
<use href="#sq000000114" x="130.81" y="687.01"/>
<rect x="398.28" y="559.35" width="2.09" height="2.09" fill="#fff" stroke="#ffffff" stroke-width="1.0"/>
</g>
<text transform="translate(378.5 227.9) scale(1 1.085)" font-size="22"><tspan font-style="italic">T</tspan> = 3 K</text>
<path d="M379.7 231H451.1" stroke="#000" stroke-width="2"/>
<text transform="translate(409 256.2) scale(1 1.085)" font-size="22">x =</text>
<path d="M379 277.7H429" stroke="#000000" stroke-width="1.5" stroke-opacity="0.55"/>
<rect x="401.7" y="275.5" width="4.4" height="4.4" fill="#fff" stroke="#000000" stroke-width="1.5"/>
<text transform="translate(434.5 285.5) scale(1 1.085)" font-size="22">0</text>
<path d="M379 306.7H429" stroke="#ff0000" stroke-width="1.5" stroke-opacity="0.55"/>
<circle cx="403.9" cy="306.7" r="2.7" fill="#fff" stroke="#ff0000" stroke-width="1.5"/>
<text transform="translate(434.5 314.5) scale(1 1.085)" font-size="22">0.03</text>
<path d="M379 335.8H429" stroke="#0000ff" stroke-width="1.5" stroke-opacity="0.55"/>
<path d="M403.9 332.2l3.6 6.2h-7.2z" fill="#fff" stroke="#0000ff" stroke-width="1.5"/>
<text transform="translate(434.5 343.6) scale(1 1.085)" font-size="22">0.04</text>
<path d="M379 364.8H429" stroke="#ff00ff" stroke-width="1.5" stroke-opacity="0.55"/>
<path d="M403.9 368.4l3.6 -6.2h-7.2z" fill="#fff" stroke="#ff00ff" stroke-width="1.5"/>
<text transform="translate(434.5 372.6) scale(1 1.085)" font-size="22">0.05</text>
<path d="M379 394.2H429" stroke="#008000" stroke-width="1.5" stroke-opacity="0.55"/>
<path d="M403.9 390.3l3.4 3.9l-3.4 3.9l-3.4 -3.9z" fill="#fff" stroke="#008000" stroke-width="1.5"/>
<text transform="translate(434.5 402) scale(1 1.085)" font-size="22">0.1</text>
<text transform="translate(886 237.6) scale(1 1.085)" font-size="22"><tspan font-style="italic">T</tspan> = 10 K</text>
<path d="M887.2 240H970.4" stroke="#000" stroke-width="2"/>
<text transform="translate(916.5 266.5) scale(1 1.085)" font-size="22">x =</text>
<path d="M886.1 287.6H935.5" stroke="#000000" stroke-width="1.5" stroke-opacity="0.55"/>
<rect x="908.6" y="285.4" width="4.4" height="4.4" fill="#fff" stroke="#000000" stroke-width="1.5"/>
<text transform="translate(941.5 295.4) scale(1 1.085)" font-size="22">0</text>
<path d="M886.1 317H935.5" stroke="#ff0000" stroke-width="1.5" stroke-opacity="0.55"/>
<circle cx="910.8" cy="317" r="2.7" fill="#fff" stroke="#ff0000" stroke-width="1.5"/>
<text transform="translate(941.5 324.8) scale(1 1.085)" font-size="22">0.03</text>
<path d="M886.1 345.9H935.5" stroke="#0000ff" stroke-width="1.5" stroke-opacity="0.55"/>
<path d="M910.8 342.3l3.6 6.2h-7.2z" fill="#fff" stroke="#0000ff" stroke-width="1.5"/>
<text transform="translate(941.5 353.7) scale(1 1.085)" font-size="22">0.04</text>
<path d="M886.1 374.9H935.5" stroke="#ff00ff" stroke-width="1.5" stroke-opacity="0.55"/>
<path d="M910.8 378.5l3.6 -6.2h-7.2z" fill="#fff" stroke="#ff00ff" stroke-width="1.5"/>
<text transform="translate(941.5 382.7) scale(1 1.085)" font-size="22">0.05</text>
<path d="M886.1 403.9H935.5" stroke="#008000" stroke-width="1.5" stroke-opacity="0.55"/>
<path d="M910.8 400l3.4 3.9l-3.4 3.9l-3.4 -3.9z" fill="#fff" stroke="#008000" stroke-width="1.5"/>
<text transform="translate(941.5 411.7) scale(1 1.085)" font-size="22">0.1</text>
<text transform="translate(383.4 764.4) scale(1 1.085)" font-size="22"><tspan font-style="italic">T</tspan> = 25 K</text>
<path d="M384.6 767H467.6" stroke="#000" stroke-width="2"/>
<text transform="translate(408.3 793) scale(1 1.085)" font-size="22">x =</text>
<path d="M383.3 814.1H433.4" stroke="#ff0000" stroke-width="1.1" stroke-opacity="1"/>
<rect x="406.2" y="811.9" width="4.4" height="4.4" fill="#fff" stroke="#ff0000" stroke-width="1.5"/>
<text transform="translate(438.9 821.9) scale(1 1.085)" font-size="22">0.03</text>
<path d="M383.3 843.4H433.4" stroke="#0000ff" stroke-width="1.1" stroke-opacity="1"/>
<circle cx="408.4" cy="843.4" r="2.7" fill="#fff" stroke="#0000ff" stroke-width="1.5"/>
<text transform="translate(438.9 851.2) scale(1 1.085)" font-size="22">0.04</text>
<path d="M383.3 872.3H433.4" stroke="#ff00ff" stroke-width="1.1" stroke-opacity="1"/>
<path d="M408.4 868.7l3.6 6.2h-7.2z" fill="#fff" stroke="#ff00ff" stroke-width="1.5"/>
<text transform="translate(438.9 880.1) scale(1 1.085)" font-size="22">0.05</text>
<path d="M383.3 901.6H433.4" stroke="#008000" stroke-width="1.1" stroke-opacity="1"/>
<path d="M408.4 905.2l3.6 -6.2h-7.2z" fill="#fff" stroke="#008000" stroke-width="1.5"/>
<text transform="translate(438.9 909.4) scale(1 1.085)" font-size="22">0.1</text>
<text transform="translate(137 568.7) scale(1 1.085)" font-size="22.25">x = 0 (<tspan font-style="italic">T</tspan> = 30 K)</text>
<path d="M225.85 572.8L252 588.2" stroke="#000" stroke-width="1.15"/>
<path d="M258.8 593L248.3 582.1L249.8 587L244.6 588.4Z" fill="#000"/>
<g clip-path="url(#cd)">
<path d="M607 589.2L999.1 910.5" stroke="#000" stroke-width="1.6" stroke-dasharray="8.2 6.6" stroke-dashoffset="-2"/>
<path d="M606.7 671.7L802.6 866.6" stroke="#000" stroke-width="1.6" stroke-dasharray="8.2 6.8" stroke-dashoffset="-3"/>
<path d="M607 582.8L614.65 587L614.65 596.8L607 601L599.35 596.8L599.35 587Z" fill="#000"/>
<path d="M724.63 687.3L732.28 691.5L732.28 701.3L724.63 705.5L716.98 701.3L716.98 691.5Z" fill="#000"/>
<path d="M763.84 708.2L771.49 712.4L771.49 722.2L763.84 726.4L756.19 722.2L756.19 712.4Z" fill="#000"/>
<path d="M803.05 750L810.7 754.2L810.7 764L803.05 768.2L795.4 764L795.4 754.2Z" fill="#000"/>
<path d="M999.1 896.3L1006.75 900.5L1006.75 910.3L999.1 914.5L991.45 910.3L991.45 900.5Z" fill="#000"/>
<ellipse cx="607" cy="675.5" rx="7.8" ry="8.2" fill="#000"/>
<ellipse cx="724.63" cy="800.9" rx="7.8" ry="8.2" fill="#000"/>
<ellipse cx="763.84" cy="821.8" rx="7.8" ry="8.2" fill="#000"/>
<ellipse cx="803.05" cy="863.6" rx="7.8" ry="8.2" fill="#000"/>
</g>
<text transform="translate(895 564) scale(1 1.085)" font-size="22"><tspan font-style="italic">T</tspan> = 3 K</text>
<path d="M887.6 575.8L895.25 580L895.25 589.8L887.6 594L879.95 589.8L879.95 580Z" fill="#000"/>
<ellipse cx="887.6" cy="618.7" rx="7.8" ry="8.2" fill="#000"/>
<text transform="translate(917.5 592.6) scale(1 1.085)" font-size="22.5"><tspan font-style="italic">M</tspan><tspan font-size="15" dy="6">90 kOe</tspan></text>
<text transform="translate(917.5 626.7) scale(1 1.085)" font-size="22.5"><tspan font-style="italic">M</tspan><tspan font-size="15" dy="5.5">s</tspan></text>
<defs><rect id="sq000000120" x="-2.28" y="-2.28" width="4.56" height="4.56" fill="#fff" stroke="#000000" stroke-width="1.5"/><circle id="ciff0000110" cx="0" cy="0" r="2.53" fill="#fff" stroke="#ff0000" stroke-width="1.5"/><path id="tu0000ff110" d="M0 -3.19L3.19 2.39L-3.19 2.39Z" fill="#fff" stroke="#0000ff" stroke-width="1.5" stroke-linejoin="miter"/><path id="tdff00ff110" d="M0 3.19L3.19 -2.39L-3.19 -2.39Z" fill="#fff" stroke="#ff00ff" stroke-width="1.5"/><rect id="sqff0000100n" x="-1.9" y="-1.9" width="3.8" height="3.8" fill="none" stroke="#ff0000" stroke-width="1.5"/><circle id="ci0000ff100n" cx="0" cy="0" r="2.3" fill="none" stroke="#0000ff" stroke-width="1.5"/><path id="tuff00ff100n" d="M0 -2.9L2.9 2.17L-2.9 2.17Z" fill="none" stroke="#ff00ff" stroke-width="1.5" stroke-linejoin="miter"/><rect id="sq000000114" x="-2.18" y="-2.18" width="4.37" height="4.37" fill="#fff" stroke="#000000" stroke-width="1.5"/></defs>
</svg></body></html>
